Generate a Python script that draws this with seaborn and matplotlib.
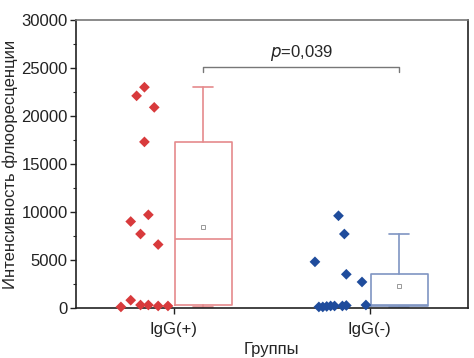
import numpy as np
import pandas as pd
import seaborn as sns
import matplotlib.pyplot as plt
from matplotlib.ticker import MultipleLocator

# dados
grupos = ["IgG(+)", "IgG(-)"]
igg_pos = [23000, 22100, 20900, 17300, 9700, 9000, 7700, 6600,
           100, 800, 300, 300, 200, 200]
igg_pos_jit = [-0.15, -0.19, -0.10, -0.15, -0.13, -0.22, -0.17, -0.08,
               -0.27, -0.22, -0.17, -0.13, -0.08, -0.03]
igg_neg = [9600, 7700, 4800, 3500, 2700,
           100, 100, 150, 200, 200, 200, 250, 300]
igg_neg_jit = [-0.16, -0.13, -0.28, -0.12, -0.04,
               -0.26, -0.24, -0.22, -0.20, -0.18, -0.14, -0.12, -0.02]
p_texto = "0,039"

cores_pontos = ["#d83a3c", "#1f4c9c"]
cores_caixa = ["#e58a8c", "#7f95c2"]

sns.set_theme(style="ticks")
plt.rcParams['font.family'] = ['Liberation Sans', 'DejaVu Sans']

df = pd.DataFrame({
    "grupo": [grupos[0]] * len(igg_pos) + [grupos[1]] * len(igg_neg),
    "valor": igg_pos + igg_neg,
    "x": [0 + j for j in igg_pos_jit] + [1 + j for j in igg_neg_jit],
})


def tukey_stats(v):
    # quartis pelo método de Tukey (hinges), como no gráfico original
    v = np.sort(np.asarray(v, dtype=float))
    n = len(v)
    h = (n + 1) // 2
    q1 = np.median(v[:h])
    q3 = np.median(v[n - h:])
    iqr = q3 - q1
    lo = v[v >= q1 - 1.5 * iqr].min()
    hi = v[v <= q3 + 1.5 * iqr].max()
    return dict(med=np.median(v), q1=q1, q3=q3, whislo=lo, whishi=hi,
                mean=v.mean(), fliers=[])


fig, ax = plt.subplots(figsize=(4.74, 3.58), dpi=100)
fig.subplots_adjust(left=0.160, right=0.987, bottom=0.140, top=0.944)

for i, dados in enumerate([igg_pos, igg_neg]):
    c = cores_caixa[i]
    ax.bxp([tukey_stats(dados)], positions=[i + 0.15], widths=0.29,
           showmeans=True, showfliers=False, manage_ticks=False,
           boxprops=dict(color=c, linewidth=1.2),
           medianprops=dict(color=c, linewidth=1.2),
           whiskerprops=dict(color=c, linewidth=1.2),
           capprops=dict(color=c, linewidth=1.2),
           meanprops=dict(marker="s", markersize=3, markerfacecolor="white",
                          markeredgecolor="#999999", markeredgewidth=0.7),
           capwidths=0.1)

sns.scatterplot(data=df, x="x", y="valor", hue="grupo", palette=cores_pontos,
                marker="D", s=30, linewidth=0, legend=False, ax=ax,
                clip_on=False, zorder=3)

# colchete de significância
y_br = 25100
ax.plot([0.15, 0.15, 1.15, 1.15], [y_br - 500, y_br, y_br, y_br - 500],
        color="#777777", linewidth=1)
ax.text(0.65, y_br + 450, f"$p$={p_texto}", ha="center", va="bottom",
        fontsize=12)

ax.set_xlim(-0.5, 1.5)
ax.set_ylim(0, 30000)
ax.set_xticks([0, 1])
ax.set_xticklabels(grupos)
ax.yaxis.set_major_locator(MultipleLocator(5000))
ax.yaxis.set_minor_locator(MultipleLocator(2500))
ax.tick_params(axis="both", labelsize=12, length=4, width=1, pad=2,
               colors="#222222")
ax.tick_params(axis="x", pad=6)
ax.tick_params(axis="y", which="minor", length=2.5, width=0.8)
ax.set_xlabel("Группы", fontsize=12, labelpad=4)
ax.set_ylabel("Интенсивность флюоресценции", fontsize=12, labelpad=2)
for s in ax.spines.values():
    s.set_linewidth(1.2)
    s.set_color("#222222")
ax.spines["top"].set_color("#777777")

fig.savefig("out.png", dpi=100)
